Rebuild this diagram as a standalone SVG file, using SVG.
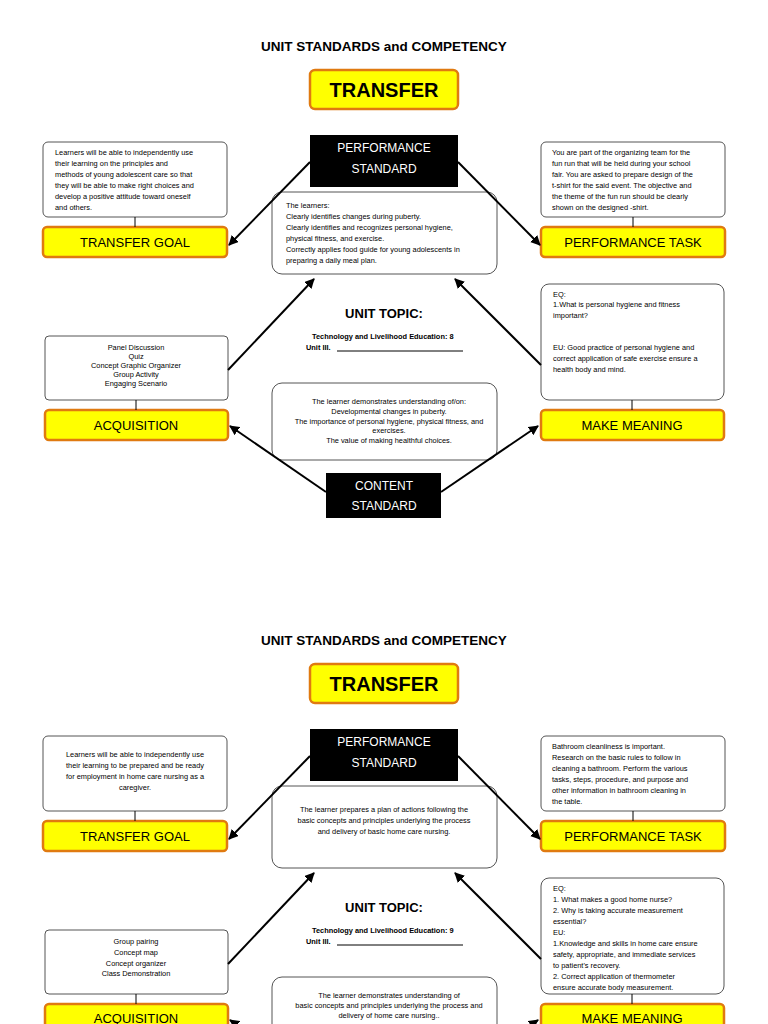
<svg xmlns="http://www.w3.org/2000/svg" width="768" height="1024" viewBox="0 0 768 1024">
<style>
text{font-family:"Liberation Sans Narrow","Liberation Sans",Arial,sans-serif;fill:#000}
.title{font-size:13.5px;font-weight:bold;text-anchor:middle}
.yb{fill:#ffff00;stroke:#e07a10;stroke-width:2.5}
.yt{font-size:13px;text-anchor:middle}
.big{font-size:20px;font-weight:bold;text-anchor:middle}
.blk{fill:#000}
.wt{fill:#fff;font-size:12px;text-anchor:middle}
.tb{fill:#fff;stroke:#555;stroke-width:1}
.s{font-size:7.4px}
.m{text-anchor:middle}
.ut{font-size:13px;font-weight:bold;text-anchor:middle}
.b{font-size:7.4px;font-weight:bold}
.ln{stroke:#000;stroke-width:1}
.ar{stroke:#000;stroke-width:2;fill:none;marker-end:url(#ah)}
</style>
<defs><marker id="ah" viewBox="0 0 10 10" refX="9" refY="5" markerWidth="5" markerHeight="5" orient="auto"><path d="M0,0L10,5L0,10z" fill="#000"/></marker></defs>

<g id="panel1">
<text class="title" x="384" y="51">UNIT STANDARDS and COMPETENCY</text>
<g id="transfer1"><rect class="yb" x="310" y="70" width="148" height="39" rx="5"/><text class="big" x="384" y="97">TRANSFER</text></g>
<g id="ps1"><rect class="blk" x="310" y="135" width="148" height="52"/><text class="wt" x="384" y="152">PERFORMANCE</text><text class="wt" x="384" y="173">STANDARD</text></g>
<g id="pstext1"><rect class="tb" x="272" y="192" width="225" height="82" rx="10"/>
<text class="s" x="286" y="208">The learners:</text><text class="s" x="286" y="219">Clearly identifies changes during puberty.</text><text class="s" x="286" y="230">Clearly identifies and recognizes personal hygiene,</text><text class="s" x="286" y="241">physical fitness, and exercise.</text><text class="s" x="286" y="252">Correctly applies food guide for young adolescents in</text><text class="s" x="286" y="263">preparing a daily meal plan.</text></g>
<g id="tgtext1"><rect class="tb" x="43" y="142" width="184" height="75" rx="5"/>
<text class="s" x="55" y="155">Learners will be able to independently use</text><text class="s" x="55" y="166">their learning on the principles and</text><text class="s" x="55" y="177">methods of young adolescent care so that</text><text class="s" x="55" y="188">they will be able to make right choices and</text><text class="s" x="55" y="199">develop a positive attitude toward oneself</text><text class="s" x="55" y="210">and others.</text></g>
<g id="tg1"><rect class="yb" x="43" y="227" width="184" height="30" rx="4"/><text class="yt" x="135" y="247">TRANSFER GOAL</text></g>
<g id="pttext1"><rect class="tb" x="541" y="142" width="184" height="75" rx="5"/>
<text class="s" x="552" y="155">You are part of the organizing team for the</text><text class="s" x="552" y="166">fun run that will be held during your school</text><text class="s" x="552" y="177">fair. You are asked to prepare design of the</text><text class="s" x="552" y="188">t-shirt for the said event. The objective and</text><text class="s" x="552" y="199">the theme of the fun run should be clearly</text><text class="s" x="552" y="210">shown on the designed -shirt.</text></g>
<g id="pt1"><rect class="yb" x="541" y="227" width="184" height="30" rx="4"/><text class="yt" x="633" y="247">PERFORMANCE TASK</text></g>
<g id="topic1"><text class="ut" x="384" y="318">UNIT TOPIC:</text><text class="b" x="312" y="339">Technology and Livelihood Education: 8</text><text class="b" x="306" y="350">Unit III.</text><line class="ln" x1="337" y1="351" x2="463" y2="351"/></g>
<g id="acqtext1"><rect class="tb" x="45" y="336" width="183" height="64" rx="4"/>
<text class="s m" x="136" y="350">Panel Discussion</text><text class="s m" x="136" y="359">Quiz</text><text class="s m" x="136" y="368">Concept Graphic Organizer</text><text class="s m" x="136" y="377">Group Activity</text><text class="s m" x="136" y="386">Engaging Scenario</text></g>
<g id="acq1"><rect class="yb" x="45" y="410" width="183" height="30" rx="4"/><text class="yt" x="136" y="430">ACQUISITION</text></g>
<g id="mmtext1"><rect class="tb" x="541" y="284" width="183" height="116" rx="8"/>
<text class="s" x="553" y="297">EQ:</text><text class="s" x="553" y="307">1.What is personal hygiene and fitness</text><text class="s" x="553" y="318">important?</text><text class="s" x="553" y="350">EU: Good practice of personal hygiene and</text><text class="s" x="553" y="361">correct application of safe exercise ensure a</text><text class="s" x="553" y="372">health body and mind.</text></g>
<g id="mm1"><rect class="yb" x="541" y="410" width="183" height="30" rx="4"/><text class="yt" x="632" y="430">MAKE MEANING</text></g>
<g id="cstext1"><rect class="tb" x="272" y="383" width="225" height="77" rx="10"/>
<text class="s m" x="389" y="404">The learner demonstrates understanding of/on:</text><text class="s m" x="389" y="414">Developmental changes in puberty.</text><text class="s m" x="389" y="424">The importance of personal hygiene, physical fitness, and</text><text class="s m" x="389" y="433">exercises.</text><text class="s m" x="389" y="443">The value of making healthful choices.</text></g>
<g id="cs1"><rect class="blk" x="326" y="473" width="115" height="45"/><text class="wt" x="384" y="490">CONTENT</text><text class="wt" x="384" y="510">STANDARD</text></g>
<g id="conn1">
<line class="ln" x1="135" y1="217" x2="135" y2="227"/><line class="ln" x1="633" y1="217" x2="633" y2="227"/>
<line class="ln" x1="136" y1="400" x2="136" y2="410"/><line class="ln" x1="632" y1="400" x2="632" y2="410"/>
<line class="ar" x1="310" y1="162" x2="229" y2="245"/><line class="ar" x1="458" y1="162" x2="540" y2="245"/>
<line class="ar" x1="228" y1="370" x2="314" y2="279"/><line class="ar" x1="541" y1="365" x2="455" y2="279"/>
<line class="ar" x1="326" y1="492" x2="230" y2="426"/><line class="ar" x1="441" y1="492" x2="538" y2="426"/>
</g>
</g>

<g id="panel2" transform="translate(0,594)">
<text class="title" x="384" y="51">UNIT STANDARDS and COMPETENCY</text>
<g id="transfer2"><rect class="yb" x="310" y="70" width="148" height="39" rx="5"/><text class="big" x="384" y="97">TRANSFER</text></g>
<g id="ps2"><rect class="blk" x="310" y="135" width="148" height="52"/><text class="wt" x="384" y="152">PERFORMANCE</text><text class="wt" x="384" y="173">STANDARD</text></g>
<g id="pstext2"><rect class="tb" x="272" y="192" width="225" height="82" rx="10"/>
<text class="s m" x="384" y="218">The learner prepares a plan of actions following the</text><text class="s m" x="384" y="229">basic concepts and principles underlying the process</text><text class="s m" x="384" y="240">and delivery of basic home care nursing.</text></g>
<g id="tgtext2"><rect class="tb" x="43" y="142" width="184" height="75" rx="5"/>
<text class="s m" x="135" y="163">Learners will be able to independently use</text><text class="s m" x="135" y="174">their learning to be prepared and be ready</text><text class="s m" x="135" y="185">for employment in home care nursing as a</text><text class="s m" x="135" y="196">caregiver.</text></g>
<g id="tg2"><rect class="yb" x="43" y="227" width="184" height="30" rx="4"/><text class="yt" x="135" y="247">TRANSFER GOAL</text></g>
<g id="pttext2"><rect class="tb" x="541" y="142" width="184" height="75" rx="5"/>
<text class="s" x="552" y="155">Bathroom cleanliness is important.</text><text class="s" x="552" y="166">Research on the basic rules to follow in</text><text class="s" x="552" y="177">cleaning a bathroom. Perform the various</text><text class="s" x="552" y="188">tasks, steps, procedure, and purpose and</text><text class="s" x="552" y="199">other information in bathroom cleaning in</text><text class="s" x="552" y="210">the table.</text></g>
<g id="pt2"><rect class="yb" x="541" y="227" width="184" height="30" rx="4"/><text class="yt" x="633" y="247">PERFORMANCE TASK</text></g>
<g id="topic2"><text class="ut" x="384" y="318">UNIT TOPIC:</text><text class="b" x="312" y="339">Technology and Livelihood Education: 9</text><text class="b" x="306" y="350">Unit III.</text><line class="ln" x1="337" y1="351" x2="463" y2="351"/></g>
<g id="acqtext2"><rect class="tb" x="45" y="336" width="183" height="64" rx="4"/>
<text class="s m" x="136" y="350">Group pairing</text><text class="s m" x="136" y="361">Concept map</text><text class="s m" x="136" y="372">Concept organizer</text><text class="s m" x="136" y="382">Class Demonstration</text></g>
<g id="acq2"><rect class="yb" x="45" y="410" width="183" height="30" rx="4"/><text class="yt" x="136" y="429">ACQUISITION</text></g>
<g id="mmtext2"><rect class="tb" x="541" y="284" width="183" height="116" rx="8"/>
<text class="s" x="553" y="297">EQ:</text><text class="s" x="553" y="308">1. What makes a good home nurse?</text><text class="s" x="553" y="319">2. Why is taking accurate measurement</text><text class="s" x="553" y="330">essential?</text><text class="s" x="553" y="341">EU:</text><text class="s" x="553" y="352">1.Knowledge and skills in home care ensure</text><text class="s" x="553" y="363">safety, appropriate, and immediate services</text><text class="s" x="553" y="374">to patient's recovery.</text><text class="s" x="553" y="385">2. Correct application of thermometer</text><text class="s" x="553" y="396">ensure accurate body measurement.</text></g>
<g id="mm2"><rect class="yb" x="541" y="410" width="183" height="30" rx="4"/><text class="yt" x="632" y="429">MAKE MEANING</text></g>
<g id="cstext2"><rect class="tb" x="272" y="383" width="225" height="77" rx="10"/>
<text class="s m" x="389" y="404">The learner demonstrates understanding of</text><text class="s m" x="389" y="414">basic concepts and principles underlying the process and</text><text class="s m" x="389" y="424">delivery of home care nursing..</text></g>
<g id="conn2">
<line class="ln" x1="135" y1="217" x2="135" y2="227"/><line class="ln" x1="633" y1="217" x2="633" y2="227"/>
<line class="ln" x1="136" y1="400" x2="136" y2="410"/><line class="ln" x1="632" y1="400" x2="632" y2="410"/>
<line class="ar" x1="310" y1="162" x2="229" y2="245"/><line class="ar" x1="458" y1="162" x2="540" y2="245"/>
<line class="ar" x1="228" y1="370" x2="314" y2="279"/><line class="ar" x1="541" y1="365" x2="455" y2="279"/>
<line class="ar" x1="326" y1="492" x2="230" y2="426"/><line class="ar" x1="441" y1="492" x2="538" y2="426"/>
</g>
</g>
</svg>
